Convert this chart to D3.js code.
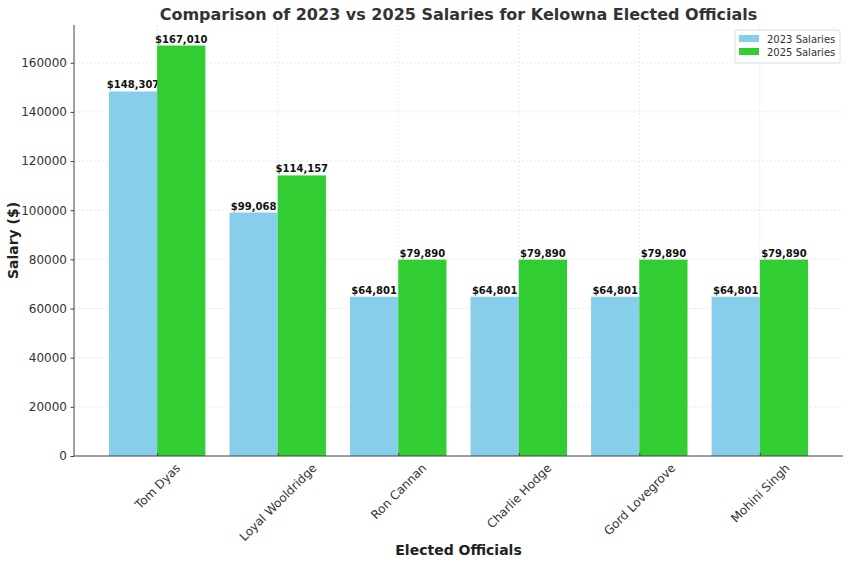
<!DOCTYPE html>
<html>
<head>
<meta charset="utf-8">
<script src="https://cdn.jsdelivr.net/npm/d3@7"></script>
<style>
  body { margin: 0; background: #fff; }
  svg, svg text { font-family: "DejaVu Sans", sans-serif; }
</style>
</head>
<body>
<div id="chart"></div>
<script>
const officials = ['Tom Dyas', 'Loyal Wooldridge', 'Ron Cannan', 'Charlie Hodge', 'Gord Lovegrove', 'Mohini Singh'];
const salaries2023 = [148307, 99068, 64801, 64801, 64801, 64801];
const salaries2025 = [167010, 114157, 79890, 79890, 79890, 79890];
const seriesNames = ['2023 Salaries', '2025 Salaries'];
const seriesColors = ['#87ceeb', '#32cd32'];
const yTicks = [0, 20000, 40000, 60000, 80000, 100000, 120000, 140000, 160000];

const width = 850, height = 565;
const margin = { top: 25, right: 7, bottom: 109, left: 74 };
const innerW = width - margin.left - margin.right;
const innerH = height - margin.top - margin.bottom;
const barW = 0.4;

const svg = d3.select('#chart').append('svg')
    .attr('width', width)
    .attr('height', height);

const chart = svg.append('g')
    .attr('transform', `translate(${margin.left}, ${margin.top})`);

// matplotlib-like linear x: bars span -0.4..5.4, 5% padding
const span = (officials.length - 1) + 2 * barW;
const pad = span * 0.05;
const x = d3.scaleLinear()
    .domain([-barW - pad, officials.length - 1 + barW + pad])
    .range([0, innerW]);

const yMax = d3.max(salaries2025) * 1.05;
const y = d3.scaleLinear()
    .domain([0, yMax])
    .range([innerH, 0]);

// grid
chart.append('g')
    .selectAll('line')
    .data(yTicks)
    .join('line')
    .attr('x1', 0).attr('x2', innerW)
    .attr('y1', d => y(d)).attr('y2', d => y(d))
    .attr('stroke', '#e2e2e2')
    .attr('stroke-width', 0.8)
    .attr('stroke-dasharray', '2,2');

chart.append('g')
    .selectAll('line')
    .data(officials)
    .join('line')
    .attr('x1', (d, i) => x(i)).attr('x2', (d, i) => x(i))
    .attr('y1', 0).attr('y2', innerH)
    .attr('stroke', '#e2e2e2')
    .attr('stroke-width', 0.8)
    .attr('stroke-dasharray', '2,2');

// bars
const series = [salaries2023, salaries2025];
series.forEach((vals, s) => {
    const offset = s === 0 ? -barW / 2 : barW / 2;
    const g = chart.append('g');
    g.selectAll('rect')
        .data(vals)
        .join('rect')
        .attr('x', (d, i) => x(i + offset - barW / 2))
        .attr('width', x(barW) - x(0))
        .attr('y', d => y(d))
        .attr('height', d => innerH - y(d))
        .attr('fill', seriesColors[s]);

    g.selectAll('text')
        .data(vals)
        .join('text')
        .attr('x', (d, i) => x(i + offset))
        .attr('y', d => y(d) - 3)
        .attr('text-anchor', 'middle')
        .attr('font-size', 10)
        .attr('font-weight', 'bold')
        .attr('fill', '#111')
        .text(d => '$' + d3.format(',')(d));
});

// axes
const axisX = chart.append('g')
    .attr('transform', `translate(0, ${innerH})`)
    .call(d3.axisBottom(x).tickValues(d3.range(officials.length))
        .tickFormat(i => officials[i]).tickSize(-3).tickSizeOuter(0));
axisX.attr('font-family', null).attr('font-size', null);
axisX.select('.domain').remove();
axisX.selectAll('.tick line').attr('stroke', '#444');
// rotated 45deg, box centred under the tick (like matplotlib ha='center')
const fs = 12, lineH = fs * 1.16, topGap = 5;
axisX.selectAll('.tick text')
    .attr('font-size', fs)
    .attr('fill', '#333')
    .attr('text-anchor', 'middle')
    .attr('dominant-baseline', 'central')
    .attr('dy', null)
    .attr('y', 0)
    .attr('transform', function () {
        const L = this.getComputedTextLength();
        const half = (L + lineH) * Math.SQRT1_2 / 2;
        return `translate(0, ${topGap + half}) rotate(-45)`;
    });

const axisY = chart.append('g')
    .call(d3.axisLeft(y).tickValues(yTicks).tickFormat(d3.format('d')).tickSize(3.5).tickPadding(3.5));
axisY.attr('font-family', null).attr('font-size', null);
axisY.select('.domain').remove();
axisY.selectAll('.tick line').attr('stroke', '#444');
axisY.selectAll('.tick text').attr('font-size', 12).attr('fill', '#333');

// spines
chart.append('line')
    .attr('x1', 0).attr('x2', 0).attr('y1', 0).attr('y2', innerH)
    .attr('stroke', '#444').attr('stroke-width', 1);
chart.append('line')
    .attr('x1', 0).attr('x2', innerW).attr('y1', innerH).attr('y2', innerH)
    .attr('stroke', '#444').attr('stroke-width', 1);

// titles
svg.append('text')
    .attr('x', margin.left + innerW / 2)
    .attr('y', 20)
    .attr('text-anchor', 'middle')
    .attr('font-size', 16)
    .attr('font-weight', 'bold')
    .attr('fill', '#333')
    .text('Comparison of 2023 vs 2025 Salaries for Kelowna Elected Officials');

svg.append('text')
    .attr('x', margin.left + innerW / 2)
    .attr('y', 555)
    .attr('text-anchor', 'middle')
    .attr('font-size', 14)
    .attr('font-weight', 'bold')
    .attr('fill', '#222')
    .text('Elected Officials');

svg.append('text')
    .attr('transform', `translate(18, ${margin.top + innerH / 2}) rotate(-90)`)
    .attr('text-anchor', 'middle')
    .attr('font-size', 14)
    .attr('font-weight', 'bold')
    .attr('fill', '#222')
    .text('Salary ($)');

// legend
const legend = svg.append('g')
    .attr('transform', `translate(${width - margin.right - 108}, ${margin.top + 5})`);
legend.append('rect')
    .attr('width', 105).attr('height', 33)
    .attr('rx', 2)
    .attr('fill', '#fff')
    .attr('fill-opacity', 0.8)
    .attr('stroke', '#ddd');
seriesNames.forEach((name, i) => {
    const row = legend.append('g').attr('transform', `translate(4, ${5 + i * 13})`);
    row.append('rect').attr('width', 20).attr('height', 7).attr('fill', seriesColors[i]);
    row.append('text')
        .attr('x', 28).attr('y', 7.5)
        .attr('font-size', 10)
        .attr('fill', '#333')
        .text(name);
});
</script>
</body>
</html>
